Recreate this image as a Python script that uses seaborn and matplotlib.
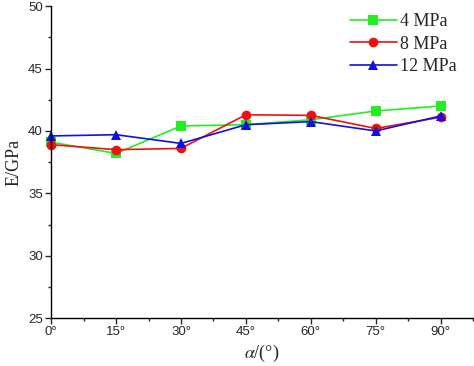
import matplotlib
matplotlib.use("Agg")
import matplotlib.pyplot as plt
from matplotlib.ticker import MultipleLocator
import seaborn as sns
import pandas as pd

# Angle between bedding and loading direction (degrees)
angles = [0, 15, 30, 45, 60, 75, 90]
tick_labels = ["0°", "15°", "30°", "45°", "60°", "75°", "90°"]

# Elastic modulus (GPa) for each confining pressure
e_4mpa = [39.1, 38.2, 40.4, 40.5, 40.9, 41.6, 42.0]
e_8mpa = [38.9, 38.5, 38.6, 41.3, 41.25, 40.2, 41.1]
e_12mpa = [39.6, 39.7, 39.0, 40.5, 40.75, 40.0, 41.2]

series_names = ["4 MPa", "8 MPa", "12 MPa"]
series_values = [e_4mpa, e_8mpa, e_12mpa]

rows = []
for name, vals in zip(series_names, series_values):
	for a, v in zip(angles, vals):
		rows.append({"angle": a, "E": v, "pressure": name})
data = pd.DataFrame(rows)

sns.set_style("ticks")
plt.rcParams["font.family"] = ["Liberation Sans", "DejaVu Sans"]
plt.rcParams["mathtext.fontset"] = "stix"

fig = plt.figure(figsize = (4.74, 3.66), dpi = 100)
ax = fig.add_axes([0.108, 0.131, 0.89, 0.852])

sns.lineplot(
	data = data,
	x = "angle",
	y = "E",
	hue = "pressure",
	style = "pressure",
	hue_order = series_names,
	style_order = series_names,
	markers = ["s", "o", "^"],
	dashes = False,
	markersize = 7,
	markeredgewidth = 0,
	linewidth = 1.2,
	palette = ["#22ee22", "#ee1111", "#1111dd"],
	ax = ax,
	clip_on = False,
)

ax.set_xlim(0, 97.5)
ax.set_ylim(25, 50)
ax.set_xticks(angles)
ax.set_xticklabels(tick_labels)
ax.xaxis.set_minor_locator(MultipleLocator(7.5))
ax.yaxis.set_major_locator(MultipleLocator(5))
ax.yaxis.set_minor_locator(MultipleLocator(2.5))
ax.tick_params(axis = "both", which = "major", direction = "out", length = 4, width = 1, labelsize = 9.5, pad = 2)
ax.tick_params(axis = "both", which = "minor", direction = "out", length = 2.5, width = 1)
sns.despine(ax = ax)
for s in ["left", "bottom"]:
	ax.spines[s].set_color("black")
	ax.spines[s].set_linewidth(1)

ax.set_xlabel(r"$\alpha$/(°)", family = ["Liberation Serif", "DejaVu Serif"], fontsize = 13, labelpad = 3)
ax.set_ylabel("E/GPa", family = ["Liberation Serif", "DejaVu Serif"], fontsize = 13, labelpad = 4)

leg = ax.legend(
	loc = "upper right",
	bbox_to_anchor = (1.0, 1.03),
	frameon = False,
	title = None,
	handlelength = 2.6,
	handletextpad = 0.2,
	labelspacing = 0.3,
	prop = {"family": ["Liberation Serif"], "size": 13},
)

plt.savefig("out.png", dpi = 100)
